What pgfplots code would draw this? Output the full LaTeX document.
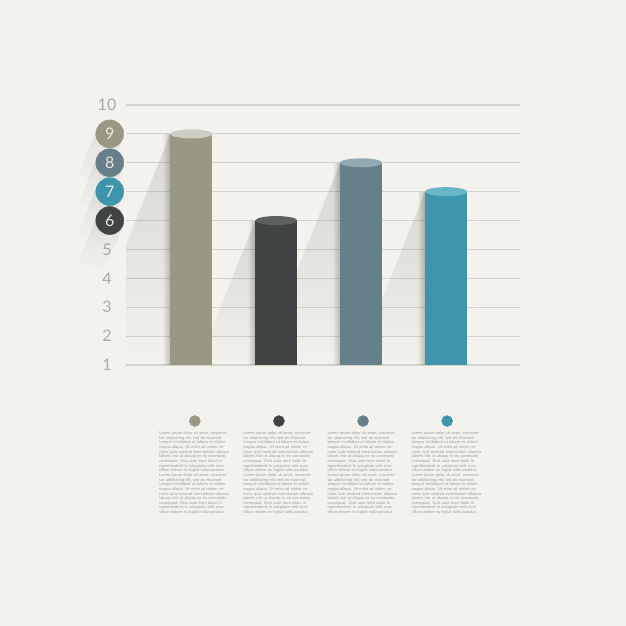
\documentclass[border=0pt]{standalone}
\usepackage{pgfplots}
\pgfplotsset{compat=1.18}
\usepackage{fontspec}
\setmainfont{Lato}
\usetikzlibrary{fadings}
\definecolor{bgc}{HTML}{F3F2EC}
\definecolor{gridc}{HTML}{D3D2CB}
\definecolor{tickc}{HTML}{ABAAA3}
\definecolor{cA}{HTML}{999884}
\definecolor{cAt}{HTML}{CFCEC3}
\definecolor{cB}{HTML}{404544}
\definecolor{cBt}{HTML}{5C6160}
\definecolor{cC}{HTML}{667F88}
\definecolor{cCt}{HTML}{91AAB2}
\definecolor{cD}{HTML}{3E96AD}
\definecolor{cDt}{HTML}{68B7C9}
\definecolor{numc}{HTML}{E9E9E2}
\definecolor{txtc}{HTML}{9C9B95}
\tikzfading[name=fadeleft, left color=transparent!100, right color=transparent!0]
\tikzfading[name=fadedown, top color=transparent!10, bottom color=transparent!100]
\pgfdeclareplotmark{cyltop}{%
  \pgfpathellipse{\pgfpointorigin}{\pgfqpoint{21pt}{0pt}}{\pgfqpoint{0pt}{4.5pt}}%
  \pgfusepathqfill}
\pgfplotsset{
  common/.style={
    scale only axis, width=394pt, height=260pt,
    at={(126pt,261pt)}, anchor=south west,
    xmin=-0.77, xmax=3.87, ymin=1, ymax=10,
  },
  longsh/.style={fill=black, fill opacity=0.12, draw=none, path fading=fadedown},
  bandsh/.style={fill=black, fill opacity=0.22, draw=none, path fading=fadeleft},
}
\tikzset{loremnode/.style={anchor=north, inner sep=0pt, text width=71pt, align=left, text=txtc,
    font=\fontsize{4.0}{3.5}\selectfont}}
\newcommand{\lorem}{Lorem ipsum dolor sit amet, consectetur adipisicing elit, sed do eiusmod tempor incididunt ut labore et dolore magna aliqua. Ut enim ad minim veniam, quis nostrud exercitation ullamco laboris nisi ut aliquip ex ea commodo consequat. Duis aute irure dolor in reprehenderit in voluptate velit esse cillum dolore eu fugiat nulla pariatur. Lorem ipsum dolor sit amet, consectetur adipisicing elit, sed do eiusmod tempor incididunt ut labore et dolore magna aliqua. Ut enim ad minim veniam, quis nostrud exercitation ullamco laboris nisi ut aliquip ex ea commodo consequat. Duis aute irure dolor in reprehenderit in voluptate velit esse cillum dolore eu fugiat nulla pariatur.}
\begin{document}
\begin{tikzpicture}
\fill[bgc] (0,0) rectangle (626pt,626pt);
% main axis: grid, shadows, bars
\begin{axis}[common,
  axis line style={draw=none},
  major tick length=0pt,
  xtick=\empty,
  ytick={1,2,3,4,5,6,7,8,9,10},
  yticklabels={1,2,3,4,5,{},{},{},{},10},
  yticklabel style={anchor=center, xshift=-19pt, font=\fontsize{16}{18}\selectfont, text=tickc},
  ymajorgrids, major grid style={color=gridc, line width=1.1pt},
]
% long shadows
\addplot[longsh] coordinates {(-0.248,9) (-0.248,1) (-1.337,1)} -- cycle;
\addplot[longsh] coordinates {(0.752,6) (0.752,1) (0.072,1)} -- cycle;
\addplot[longsh] coordinates {(1.752,8) (1.752,1) (0.800,1)} -- cycle;
\addplot[longsh] coordinates {(2.752,7) (2.752,1) (1.936,1)} -- cycle;
% soft bands next to bars
\addplot[bandsh] coordinates {(-0.248,9) (-0.248,1) (-0.34,1) (-0.34,9)} -- cycle;
\addplot[bandsh] coordinates {(0.752,6) (0.752,1) (0.66,1) (0.66,6)} -- cycle;
\addplot[bandsh] coordinates {(1.752,8) (1.752,1) (1.66,1) (1.66,8)} -- cycle;
\addplot[bandsh] coordinates {(2.752,7) (2.752,1) (2.66,1) (2.66,7)} -- cycle;
% bars
\addplot[ybar, bar width=42pt, fill=cA, draw=none] coordinates {(0,9)};
\addplot[ybar, bar width=42pt, fill=cB, draw=none] coordinates {(1,6)};
\addplot[ybar, bar width=42pt, fill=cC, draw=none] coordinates {(2,8)};
\addplot[ybar, bar width=42pt, fill=cD, draw=none] coordinates {(3,7)};
\end{axis}
% decoration axis: cylinder tops, circles, legend dots, texts
\begin{axis}[common, hide axis, clip=false, /pgf/number format/assume math mode=true]
\addplot[only marks, mark=cyltop, color=cAt, mark options={fill=cAt}] coordinates {(0,9)};
\addplot[only marks, mark=cyltop, color=cBt, mark options={fill=cBt}] coordinates {(1,6)};
\addplot[only marks, mark=cyltop, color=cCt, mark options={fill=cCt}] coordinates {(2,8)};
\addplot[only marks, mark=cyltop, color=cDt, mark options={fill=cDt}] coordinates {(3,7)};
% circle shadows
\addplot[longsh, fill opacity=0.08] coordinates {(-1.114,9.18) (-0.808,8.82) (-1.026,7.21) (-1.332,7.57)} -- cycle;
\addplot[longsh, fill opacity=0.08] coordinates {(-1.114,8.18) (-0.808,7.82) (-1.026,6.21) (-1.332,6.57)} -- cycle;
\addplot[longsh, fill opacity=0.08] coordinates {(-1.114,7.18) (-0.808,6.82) (-1.026,5.21) (-1.332,5.57)} -- cycle;
\addplot[longsh, fill opacity=0.08] coordinates {(-1.114,6.18) (-0.808,5.82) (-1.026,4.21) (-1.332,4.57)} -- cycle;
% circle labels
\pgfplotsset{circ/.style={only marks, mark=*, mark size=14pt,
  nodes near coords, nodes near coords align=center,
  every node near coord/.append style={anchor=center, font=\fontsize{16}{18}\selectfont, text=numc}}}
\addplot[circ, color=cA, mark options={fill=cA, draw=cA}] coordinates {(-0.961,9)};
\addplot[circ, color=cC, mark options={fill=cC, draw=cC}] coordinates {(-0.961,8)};
\addplot[circ, color=cD, mark options={fill=cD, draw=cD}] coordinates {(-0.961,7)};
\addplot[circ, color=cB, mark options={fill=cB, draw=cB}] coordinates {(-0.961,6)};
% legend dots
\addplot[only marks, mark=*, mark size=5.5pt, color=cA, mark options={fill=cA, draw=cA}] coordinates {(0.041,-0.94)};
\addplot[only marks, mark=*, mark size=5.5pt, color=cB, mark options={fill=cB, draw=cB}] coordinates {(1.031,-0.94)};
\addplot[only marks, mark=*, mark size=5.5pt, color=cC, mark options={fill=cC, draw=cC}] coordinates {(2.022,-0.94)};
\addplot[only marks, mark=*, mark size=5.5pt, color=cD, mark options={fill=cD, draw=cD}] coordinates {(3.012,-0.94)};
\node[loremnode] at (axis cs:0.041,-1.30) {\lorem};
\node[loremnode] at (axis cs:1.031,-1.30) {\lorem};
\node[loremnode] at (axis cs:2.022,-1.30) {\lorem};
\node[loremnode] at (axis cs:3.012,-1.30) {\lorem};
\end{axis}
\end{tikzpicture}
\end{document}
